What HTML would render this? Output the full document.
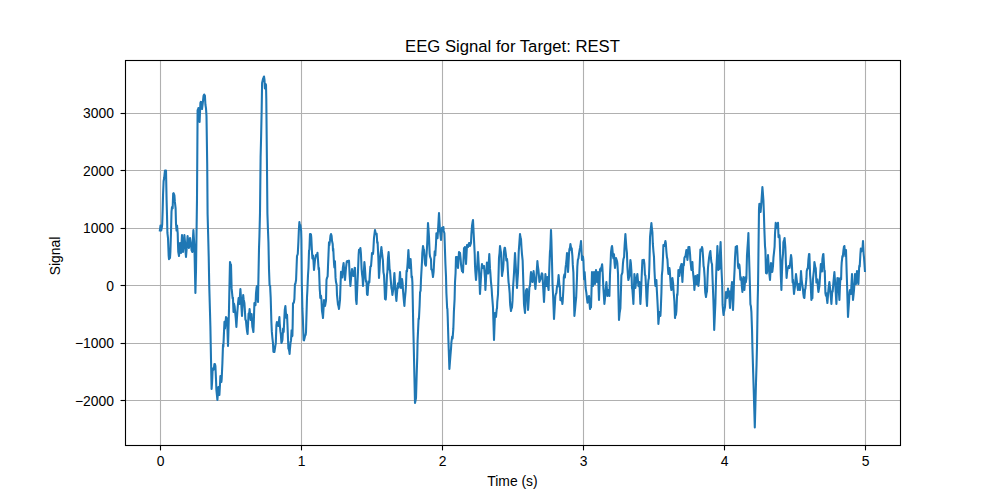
<!DOCTYPE html>
<html><head><meta charset="utf-8"><title>EEG Signal for Target: REST</title>
<style>
html,body{margin:0;padding:0;background:#fff;}
body{width:1000px;height:500px;overflow:hidden;font-family:"Liberation Sans",sans-serif;}
svg{display:block;}
</style></head><body>
<svg width="1000" height="500" viewBox="0 0 1000 500">
<defs>
<clipPath id="c"><rect x="125" y="60" width="775" height="385"/></clipPath>
</defs>
<rect width="1000" height="500" fill="#fff"/>
<line x1="160.5" y1="60.5" x2="160.5" y2="445.5" stroke="#b0b0b0" stroke-width="1.11"/>
<line x1="301.5" y1="60.5" x2="301.5" y2="445.5" stroke="#b0b0b0" stroke-width="1.11"/>
<line x1="442.5" y1="60.5" x2="442.5" y2="445.5" stroke="#b0b0b0" stroke-width="1.11"/>
<line x1="583.5" y1="60.5" x2="583.5" y2="445.5" stroke="#b0b0b0" stroke-width="1.11"/>
<line x1="724.5" y1="60.5" x2="724.5" y2="445.5" stroke="#b0b0b0" stroke-width="1.11"/>
<line x1="865.5" y1="60.5" x2="865.5" y2="445.5" stroke="#b0b0b0" stroke-width="1.11"/>
<line x1="125.5" y1="113.5" x2="900.5" y2="113.5" stroke="#b0b0b0" stroke-width="1.11"/>
<line x1="125.5" y1="170.5" x2="900.5" y2="170.5" stroke="#b0b0b0" stroke-width="1.11"/>
<line x1="125.5" y1="228.5" x2="900.5" y2="228.5" stroke="#b0b0b0" stroke-width="1.11"/>
<line x1="125.5" y1="285.5" x2="900.5" y2="285.5" stroke="#b0b0b0" stroke-width="1.11"/>
<line x1="125.5" y1="343.5" x2="900.5" y2="343.5" stroke="#b0b0b0" stroke-width="1.11"/>
<line x1="125.5" y1="400.5" x2="900.5" y2="400.5" stroke="#b0b0b0" stroke-width="1.11"/>

<polyline clip-path="url(#c)" fill="none" stroke="#1f77b4" stroke-width="2.08" stroke-linejoin="round" stroke-linecap="butt" points="159.70,231.50 160.23,227.85 160.50,225.50 160.79,227.67 161.20,230.50 161.92,226.82 162.20,224.27 162.70,208.65 163.05,194.83 163.60,181.19 164.18,178.05 164.74,172.64 165,170.50 165.30,170.50 166,170.50 166.60,200.15 167,214.97 167.40,232.93 168,238.04 168.68,255.88 169,259.11 170,257.87 170.38,252.27 171,232.29 171.50,211.73 172,207.03 172.63,208.41 173.19,193.53 173.60,193.14 174.40,195.33 174.88,201.90 175.60,208.37 176,223.66 176.58,230.57 177,225.45 177.70,233.13 178,244.40 178.27,251.80 179,256 179.39,249.71 180,243 180.52,247.80 181,253 181.65,241.52 182,235 183,252 183.34,248.16 183.90,243.80 184.40,235 185.03,242.26 185.59,252.04 186,257 186.72,248.22 187.28,240.69 187.60,236 188.41,244.04 189,248 189.54,243.41 190,238 190.67,242.64 191.23,246.64 191.60,250.29 192.40,252 192.92,238.63 193.40,230 194.05,240.46 194.40,246 195.40,293 195.74,279.99 196,270 196.30,248.79 197,199.09 197.60,110.23 197.99,109.75 198.40,108 199.12,114.26 199.60,122 200.40,102.95 200.81,101.89 201.20,102 202,109 202.50,105.09 202.80,102.93 203.07,100.33 203.50,96 204.20,94.50 204.90,95.50 205.40,104.48 206,108.30 206.50,116.17 207.20,163.40 207.60,214.27 208.14,234.28 208.70,256.27 209,272.64 209.27,286.75 210,312.19 210.39,326.77 211,359.15 211.60,389 212.08,382.39 212.65,368.52 213,370.18 213.78,369.29 214.40,364 214.90,363.96 215.40,366.08 216.03,380.04 216.40,390 217.40,400 217.72,395.82 218.40,387 218.85,390.58 219.40,395 219.98,384.78 220.40,376 221.10,379.68 221.40,382 221.67,379.14 222.40,363.04 223,344.90 223.36,346.82 224,331.90 224.48,321.78 225,328.39 225.61,322.32 226,317 226.74,318.05 227,318.81 227.30,324.62 228,346 228.43,332 229,309.10 229.56,281.31 230,262 230.69,264.73 231,264.84 231.60,288.13 232.60,298.41 232.94,297.64 233.50,312.03 234,303.61 234.63,306.59 235.40,314.57 235.76,318.18 236.40,327 236.89,318.66 237.40,311.49 238.01,303.59 238.60,298 239.14,302.38 239.40,304 239.70,299.28 240.40,289 240.83,295.54 241.39,306.08 242,316 242.52,305.37 243.20,295 243.65,299.40 244.40,302.92 244.78,308.67 245.40,319.65 245.90,320.13 246.40,325.58 247.03,331.19 247.60,334 248.16,321.81 248.60,313.54 249.29,312.69 249.60,309 250.60,320 250.98,319.31 251.60,314 252.10,322.61 252.40,327.07 252.67,327.97 253.40,332 253.79,322.22 254.40,303.07 254.92,303.74 255.49,305.20 256,293.39 256.61,287.36 257,286 257.74,298.81 258,302 258.30,285.31 259,248.68 259.43,236.02 260,212.77 260.60,157.16 261.12,136.55 261.69,108.72 262.10,83.06 263,79 263.38,78.06 264,76.50 264.50,80 264.90,88.50 265.60,84 266,84.90 266.30,98.99 266.90,158.41 267.40,213.26 268,230.96 268.45,242.40 269,269.37 269.58,285.38 270.14,285.77 270.40,291.86 270.70,297.86 271.40,322.18 271.83,331.64 272.40,338.02 272.96,342.77 273.40,351.73 274.09,352.07 274.40,352 275.40,345.35 275.78,343.63 276.40,325.21 276.90,322.01 277.40,323 278.03,325.70 278.40,326 279.40,317 279.72,323.53 280.40,331.38 280.85,334.15 281.40,343 281.98,341.60 282.40,340.08 283.10,328.58 283.40,331.21 283.67,331.94 284.40,317.10 284.79,309.62 285.40,306 285.92,312.96 286.40,318.02 287.05,314.83 287.40,323.25 288.40,348.60 288.74,348.47 289.30,351.50 289.60,354 289.87,350.01 290.60,342.12 290.99,340.65 291.60,330.18 292.12,336.33 292.40,335.82 292.69,323.50 293,303.35 293.81,302.75 294.40,299.03 294.94,284.06 295.40,283.74 296.07,279.95 296.63,265.57 297,256.08 297.76,254.01 298.40,241.59 298.89,229.37 299.40,222 300.01,227.13 300.40,225.04 301.14,230.86 301.40,240.05 301.80,282.90 302.40,308.65 302.83,317.45 303.60,340 303.96,340.41 304.52,338.15 305,336.05 305.65,334.76 306,332.03 307,297.16 307.34,291.27 308,275.02 308.47,268.04 309.03,250.56 309.40,249.52 310,234 310.72,234.01 311,234.73 311.29,237.56 312,252.30 312.41,258.45 313,255.42 313.54,262 314,270 314.67,263.11 315,259.87 316,255 316.36,255.75 317,255.41 317.49,252.80 318,260.18 318.61,269.44 319,268.10 319.74,289.32 320,292.28 320.30,297.94 321,295.80 321.43,299.51 322,310.88 322.56,314.47 323,318 323.69,305.82 324,300 325,306 325.38,304.19 326,300.56 326.50,279.68 327,277.89 327.63,276.36 328,266.54 329,242.33 329.32,245.24 330,240.43 330.45,235.88 331,234 331.58,235.91 332,240.85 332.70,243.97 333,250.58 333.27,248.80 334,263.31 334.39,267.44 334.96,261.30 335.52,277.41 336,282.02 336.65,284.75 337,294.92 338,304.85 338.34,305.50 339,309 339.47,304.91 340,299.88 340.59,283.08 341,271.79 341.72,276.77 342,275.34 342.29,277.36 342.85,267.95 343.60,263 343.98,268.14 344.54,274.02 345,280 345.67,271.87 346,267.99 346.79,261.47 347.60,261 347.92,261.85 348.49,261.92 349,260.68 349.61,274.62 350.40,286 350.74,281.66 351.30,275.33 352,269 352.43,271.15 352.99,273.39 353.40,276 354.12,275.11 354.69,267.83 355,268 356,299.93 356.60,304 356.94,295.06 357.50,282.40 358,271.48 358.63,254.68 359,249.85 359.76,250.80 360.40,248 360.89,253.01 361.60,268.81 362.01,273.78 362.58,278.13 363,286 363.70,275.04 364.40,262 364.83,266.62 365.60,278.25 365.96,281.52 366.52,281.06 367,294.25 367.60,295 368.21,286.01 369,281.19 369.34,282.56 369.90,273 370.40,266.62 371.03,266.17 371.60,258.80 372,253 372.72,253.26 373,254 373.29,251.27 374,237.81 374.41,234.53 375,230 375.54,232.64 376.10,233.89 376.40,234.47 376.67,233.70 377.23,243.02 377.60,242.17 378.36,258.20 379,278 379.49,270.47 380,259.70 380.61,253.76 381.40,247 381.74,250.98 382.30,255.18 382.60,258.09 382.87,259.90 383.43,272.12 384,274.94 384.56,287.17 385,299 385.69,299.53 386,296.57 387,274.60 387.38,272.19 387.94,258.63 388.60,252 389.07,259.59 389.63,270.05 390,270.24 390.76,280.15 391.40,288.11 391.89,290.01 392.40,295 393.01,290.81 393.40,288.36 394.14,276.84 394.40,273 394.70,278.27 395.40,289.86 395.83,295.48 396.40,301 396.96,293.41 397.40,288.29 398.09,283.18 398.65,287.80 399,285.62 400,272 400.34,278.18 401,288 401.47,285.36 402,279 402.60,283.11 403,290.50 403.72,299.10 404.40,306 404.85,299.19 405.60,291.49 405.98,285.48 406.54,270.82 407,271.36 407.67,262.64 408.40,250 408.80,256.91 409.40,268 409.92,264.41 410.60,259 411.05,265.97 411.61,277.43 412,276.41 412.40,282.41 412.74,299.28 413.30,328.42 413.60,340.33 413.87,352.02 414.43,377.42 415,403 415.56,400.21 416,398 416.69,374.16 417.25,357.26 417.60,340.64 418.60,318.50 418.94,318.96 419.60,305.56 420.07,292.25 420.60,290.69 421,279.11 422,261.51 422.32,253.09 423,246 423.45,248.27 424,249.93 424.58,258.34 425,263.88 425.70,265.76 426,265 426.27,258.52 427,247.55 427.40,239.75 428,223 428.52,229.75 429,236.78 429.65,253.36 430,256.37 431,259.24 431.34,269.57 432,269.54 432.47,273.19 433,277 433.60,271.86 434,263.93 434.72,251.21 435,254.89 435.29,255.44 436,243.45 436.41,233.17 437,233.76 437.54,238.28 438,230.61 438.67,218.74 439,213 440,230.98 440.36,234.02 441,240 441.49,233.61 442,227.75 442.61,227.74 443.40,227 443.74,230.92 444.40,233.29 444.87,247.31 445.40,263.55 446,276.35 446.40,293.02 447.12,308.07 447.40,308.86 447.69,316.47 448.40,340 448.81,352 449.40,369 449.94,361.97 450.40,356 451.07,347.87 451.40,342.40 452.20,336.47 452.60,338.42 453.32,328.94 453.60,321.30 453.89,311.89 454.60,299.07 455,282.37 455.58,272.89 456,257.11 456.70,257.05 457,257 457.27,261.75 458,268 458.40,261.46 459,252 459.52,252.62 460,252.86 460.65,259.03 461,264.27 462,271 462.34,270.39 463,272.51 463.47,260.72 464,248.12 464.60,247.50 465,247 465.72,259.19 466,264 466.29,258.66 467,245 467.41,245.72 468,247 468.54,244.79 469,243 469.67,243 470,246 471,242.85 471.36,234.60 472,225.98 472.49,222.55 473,220 473.61,232.65 474,239.87 474.74,254.73 475,265.20 475.30,270.91 476,280 476.43,274.68 477,268.22 477.56,259.93 478,252 478.69,263.86 479,270.05 479.25,275.83 480,294 480.38,287.33 481,276.57 481.50,268.71 482,264 482.63,266.96 483,268 484,266 484.32,269.87 485,278.05 485.40,290 486.20,275.38 486.58,268.30 486.90,262.50 487.70,270.74 488.20,273.50 488.83,261.25 489.30,254 489.96,268.17 490.30,271.86 491,282.20 491.65,288.72 492,294.74 493,307.48 493.34,318.89 494,340 494.47,327.31 495,313 495.60,315.39 496,317 496.72,308.99 497,308.47 497.29,301.78 498,294.25 498.41,279.48 499,257.74 499.54,253.06 500,246 500.67,250.57 501,252.70 502,276 502.36,273.40 503,269.87 503.49,263.56 504,251.32 504.61,247.78 505,248 505.74,253.34 506,255.52 506.30,260.39 507,258.87 507.43,262.55 508,273.23 508.56,282.35 509,285.30 509.69,293.35 510,301.47 510.25,305.43 511,311 511.38,308.70 512,307.44 512.50,300.89 513,288.37 513.63,278.94 514,273.03 515,253 515.32,258.31 516,269.97 516.45,277.68 517,288 517.58,278.66 518,272.87 518.71,251.99 519,247.76 519.27,244.27 520,234 520.40,237.03 521,239.08 521.52,248.16 522,254.37 522.65,260.73 523,271.72 524,304.43 524.34,307.42 525,313 525.47,301.30 526,290.37 526.60,289.22 527,289 527.72,304.26 528,310 528.29,306.80 529,295.06 529.41,286.99 530,286.13 530.54,277.12 531,272 531.67,275.24 532.40,282 532.80,278.81 533.60,271 533.92,274.01 534.49,280.44 535.05,285.15 535.40,289 536.40,276.64 536.74,271.53 537.40,261 537.87,266.07 538.40,269.66 539,276.45 539.40,282 540.12,280.10 540.69,278.76 541,277.27 541.25,275.70 541.81,273.20 542.40,274 542.94,283.20 543.51,293.23 544,302 544.63,289.68 545.40,274 545.76,277.84 546.40,286 546.89,281.51 547.40,277 548.01,286.37 548.60,290 549.14,273.42 549.71,257.61 550,251.09 550.27,249.51 551,230 551.40,240.09 552,262 552.52,284.11 553,293.50 553.65,309.53 554,319 555,301.87 555.34,295.99 555.91,293.75 556.40,292.92 557.03,286.03 557.60,285.95 558.16,280.30 558.60,275 559.29,283.76 559.60,287.48 559.85,286.23 560.41,300.23 561,297.83 561.54,298.96 562.11,301.74 562.40,304 562.67,301.54 563.40,289 563.80,277.30 564.40,274.35 564.92,277.38 565.60,267.38 566.05,264.15 566.61,258.62 567,253 567.74,265.80 568,272 568.31,267.51 569,254.13 569.43,249.12 570,247.75 570.40,244 571.12,248.48 571.40,250.02 571.69,248.18 572.40,256.22 572.81,264.89 573.40,272.52 573.94,297.03 574.40,316 575.07,309.12 575.60,303.18 576.20,297.19 577,277.56 577.32,266.72 577.89,259.66 578.40,258.55 579.01,253.91 579.60,250.10 580.14,247.21 580.71,243.57 581,241 581.27,245.27 582,259.94 582.40,257.95 582.96,256.68 583.40,260.49 584.09,279.14 584.40,275.88 584.65,272.01 585.21,280.56 585.60,287.94 586.34,292.65 587,298.61 587.47,302.62 588,301 588.60,297.52 589,296 589.72,305.62 590,309 590.29,307.06 591,307.39 591.41,294.22 592,272 592.54,277 593,286 593.67,276.47 594,272 595,284 595.36,279 596,270 596.49,275.58 597,282 597.61,276.43 598,272 598.74,292.74 599,300 599.31,291.10 600,269.56 600.43,268.65 601,270.72 601.40,268 602.12,264.21 602.40,267.69 602.69,273.04 603.40,288.80 603.81,294.72 604.40,304 604.94,298.88 605.40,292.86 606.07,285.39 606.40,282 607.40,296 607.76,294.03 608.40,290 608.89,295.32 609.40,296 610,274.72 610.58,262.92 611,252.42 611.71,246.98 612,246 612.27,247.69 613,256.21 613.40,258.32 614,254.36 614.52,262.71 615,268 615.65,259.59 616,258 617,260.96 617.34,263.06 618,273.50 618.47,297.75 619,320 619.60,313.32 620.40,308.08 620.72,297.62 621.40,275.45 621.85,274.12 622.40,272.60 622.98,263.08 623.40,259.28 624.11,257.05 624.40,249.61 624.67,244.69 625.40,234 625.80,239.83 626.40,248.17 626.92,252.87 627.40,266.89 628.05,277.28 628.40,280 629.40,276.32 629.74,271.22 630.40,260 630.87,263.12 631.40,271.18 632,287.89 632.40,289.51 633.12,299.32 633.40,304 633.69,295.43 634.40,274 634.81,277.82 635.40,288 635.94,283.16 636.40,281.56 637.07,275.68 637.40,274 638.40,286 638.76,286.34 639.40,282 639.89,292.53 640.40,304 641.01,293.03 641.40,282.75 642.14,265.89 642.40,260 642.71,261.30 643.40,262.90 643.83,259.73 644.40,263.94 644.96,274.98 645.40,275.44 646.09,288.19 646.40,296.83 646.65,301.04 647,306 647.78,288.11 648.40,280.34 648.91,277.97 649.40,264.71 650.03,237.04 650.40,233.03 651.40,223 651.72,226.51 652.40,232.42 652.85,243.94 653.40,251.04 653.98,256.84 654.40,269 655.11,282.68 655.40,286 655.67,283.58 656.40,280 656.80,289.54 657.40,300.27 657.92,310.44 658.40,324 659.05,316.46 659.40,312 660.40,316 660.74,310.35 661.40,292.95 661.87,275.10 662.40,270.22 663,256.95 663.40,245 664.12,245.14 664.40,246 664.69,245.05 665.40,241 665.82,243.30 666.40,251.75 666.94,257.25 667.40,259.24 668.07,270.16 668.40,274 669.40,268 669.76,270.63 670.40,280.50 670.89,286.92 671.40,290 672.02,283.07 672.40,278 673.14,283.68 673.40,287.94 673.71,292.63 674.40,301.50 675,318 675.40,314.79 675.96,314.85 676.40,310.87 677.09,294.37 677.40,295.07 677.65,291.26 678.40,270 678.78,270.85 679.40,276 679.91,271.66 680.40,267 681.03,265.80 681.40,264 682.40,282 682.72,276.15 683.40,263.82 683.85,265.42 684.40,257.83 684.98,256.61 685.40,256.66 686.11,251.98 686.40,250 686.67,252.29 687.40,260 687.80,255.78 688.40,247.07 688.92,248.40 689.40,247 690.05,253.98 690.40,260.37 691.40,270 691.74,265.04 692.40,262 692.87,270.88 693.40,276.19 694,282.51 694.40,290 695.12,280.16 695.40,276 695.69,278.27 696.40,284 696.82,280.70 697.40,275 697.94,278.61 698.40,286 699.07,279.55 699.40,271.93 700.40,249.42 700.76,249.71 701.32,250.70 702,247 702.45,248.77 703,255.78 703.58,266.03 704,268.07 704.71,278.05 705,287.99 705.27,292.59 706,297 706.40,293.86 707,291.25 707.52,278.40 708,267.62 708.65,261.59 709,258.28 709.78,253.15 710.40,251 710.91,257.99 711.40,262.28 712.03,264.30 712.40,274.74 713.40,300.65 713.72,310.65 714.20,330 714.85,315.28 715.40,303.07 715.98,280.52 716.40,267.92 717.11,254.31 717.40,246 717.67,252.91 718.40,270 718.80,267.96 719.40,268.88 719.92,254.06 720.60,242 721.05,255.43 721.60,271.59 722.18,284.11 722.60,304.71 723.31,313.14 723.60,315 723.87,312.40 724.43,309.90 725,306.95 725.56,298.44 726,292 726.69,296.02 727,298 727.25,296.35 728,288.42 728.38,292.74 729,291.18 729.51,300.25 730,308 730.63,297.50 731,292.31 732,282 732.32,289.73 733,310 733.45,300.02 734,281.03 734.58,269.81 735,257.96 735.71,246.84 736,249.38 736.27,250.56 737,246 737.40,252.78 738,266 738.52,268.28 739.09,264.33 739.40,265 739.65,267.36 740.40,279.79 740.78,276.91 741.40,279.31 741.91,287.15 742.40,292 743.03,282.42 743.40,277 744.40,290 744.72,285.36 745.40,277.29 745.85,282.13 746.40,278.13 746.98,255.57 747.40,249.12 748.11,238.99 748.40,233 748.67,243.87 749.40,267.75 749.80,280.94 750.40,304.31 750.92,306.29 751.40,311.93 752.05,330.52 752.40,346.49 753.18,372.90 753.74,391.08 754.31,410.54 754.80,427.50 755.43,403.73 756,382.30 756.56,364.22 757,345.70 757.69,300.70 758,287.96 758.25,269.61 759,208.95 759.38,203.84 760,206 760.60,212 761.07,206.06 761.40,202 762.40,187 762.76,191.70 763.40,200 763.89,213.36 764.40,230.43 765.02,246.36 765.40,250.10 766,273 766.71,273.44 767,272.43 767.27,267.39 768,255 768.40,261.52 769,269.74 769.52,275.31 770,280 770.65,268.89 771,263 772,272 772.34,271.67 773,265.92 773.47,257.29 774,252.67 774.60,246.59 775,233.86 775.72,222.80 776.40,228.16 776.85,226.72 777.42,226.67 778,222.78 778.54,237.13 779.11,237.08 779.40,235.18 779.67,238.50 780.40,260.83 780.80,275.19 781.40,290 781.92,273.50 782.40,260.55 783.05,253.35 783.40,242.30 784.18,239.61 784.60,238 785.31,246.84 785.60,253.78 785.87,262.35 786.60,278 787,272.88 787.60,268.85 788.12,267.91 788.60,266 789.25,266.10 789.60,268 790.38,260.94 791,255 791.51,258.06 792,266.83 792.63,282.48 793,279.87 794,294 794.33,291.20 795,286.31 795.45,280.53 796,274 796.58,278.85 797,282.06 797.71,288.10 798,290 798.27,288.50 799,284 799.40,285.66 800,290 800.53,280.23 801,271 801.65,279.81 802,282.59 803,289.56 803.34,293.81 803.91,297.67 804.40,298 805.03,289.57 805.40,288.55 806.40,278.67 806.73,271.01 807.40,268.62 807.85,268.55 808.40,259.84 808.98,254.24 809.40,254 810.11,275.23 810.40,278.62 810.67,283.20 811.40,300 811.80,298.38 812.40,298.12 812.93,279.60 813.40,275.22 814.05,269.01 814.40,262 815.40,267.68 815.74,267.97 816.40,282.58 816.87,280.96 817.40,279.57 818,288.32 818.40,292 819.13,287.52 819.40,286.26 819.69,281.92 820.40,271.03 820.82,264.12 821.40,268.46 821.94,271.49 822.40,259.25 823.07,254.27 823.40,254 824.40,271.81 824.76,270.72 825.40,293.13 825.89,295.65 826.40,293.17 827.02,300.04 827.40,303 828.14,293.37 828.40,290.12 828.71,287.14 829.40,282 829.83,286.05 830.40,292.14 830.96,298.28 831.40,304 832.09,293.20 832.40,291.16 832.65,291.79 833.40,282.62 833.78,278.48 834.40,272 834.91,279.26 835.40,286.58 836.03,297.37 836.40,304 837.40,278 837.73,278.63 838.40,278.26 838.85,291.19 839.40,300 839.98,285.42 840.40,277.95 841.11,279.40 841.40,267.97 841.67,262.94 842.40,256.02 842.80,256.76 843.40,250.74 843.93,246.82 844.40,246 845.05,254.15 845.40,256 846,250 846.74,274.66 847,282.27 847.31,293.48 848,317 848.43,310.24 849,301.72 849.56,292.11 850,290 850.69,293.64 851,294 851.25,288.85 852,274 852.38,284.07 853,300 853.51,295.13 854,290.10 854.63,281.29 855,274 856,284 856.33,279.87 857,271 857.45,274.85 858.02,281.55 858.40,284 859.14,267.45 859.40,265.47 859.71,266.65 860.40,254.06 860.83,248.59 861.40,251.37 861.96,250.02 862.40,249.96 863,241 863.65,254.08 864,257.49 865,272"/>
<rect x="125.5" y="60.5" width="775" height="385" fill="none" stroke="#000" stroke-width="1.11"/>
<line x1="160.5" y1="445.5" x2="160.5" y2="450.4" stroke="#000" stroke-width="1.11"/>
<line x1="301.5" y1="445.5" x2="301.5" y2="450.4" stroke="#000" stroke-width="1.11"/>
<line x1="442.5" y1="445.5" x2="442.5" y2="450.4" stroke="#000" stroke-width="1.11"/>
<line x1="583.5" y1="445.5" x2="583.5" y2="450.4" stroke="#000" stroke-width="1.11"/>
<line x1="724.5" y1="445.5" x2="724.5" y2="450.4" stroke="#000" stroke-width="1.11"/>
<line x1="865.5" y1="445.5" x2="865.5" y2="450.4" stroke="#000" stroke-width="1.11"/>
<line x1="120.55" y1="113.5" x2="125.5" y2="113.5" stroke="#000" stroke-width="1.11"/>
<line x1="120.55" y1="170.5" x2="125.5" y2="170.5" stroke="#000" stroke-width="1.11"/>
<line x1="120.55" y1="228.5" x2="125.5" y2="228.5" stroke="#000" stroke-width="1.11"/>
<line x1="120.55" y1="285.5" x2="125.5" y2="285.5" stroke="#000" stroke-width="1.11"/>
<line x1="120.55" y1="343.5" x2="125.5" y2="343.5" stroke="#000" stroke-width="1.11"/>
<line x1="120.55" y1="400.5" x2="125.5" y2="400.5" stroke="#000" stroke-width="1.11"/>

<g fill="#000" stroke="none" font-family="Liberation Sans, sans-serif" font-size="13.9">
<text x="512.5" y="52" text-anchor="middle" font-size="16.7">EEG Signal for Target: REST</text>
<text x="512.5" y="485.9" text-anchor="middle">Time (s)</text>
<text transform="translate(59.9,256) rotate(-90)" text-anchor="middle">Signal</text>
<text x="160.5" y="466" text-anchor="middle">0</text><text x="301.5" y="466" text-anchor="middle">1</text><text x="442.5" y="466" text-anchor="middle">2</text><text x="583.5" y="466" text-anchor="middle">3</text><text x="724.5" y="466" text-anchor="middle">4</text><text x="865.5" y="466" text-anchor="middle">5</text>
<text x="114" y="118" text-anchor="end">3000</text><text x="114" y="176" text-anchor="end">2000</text><text x="114" y="233" text-anchor="end">1000</text><text x="114" y="291" text-anchor="end">0</text><text x="114" y="348" text-anchor="end">−1000</text><text x="114" y="406" text-anchor="end">−2000</text>
</g>
</svg>
</body></html>
